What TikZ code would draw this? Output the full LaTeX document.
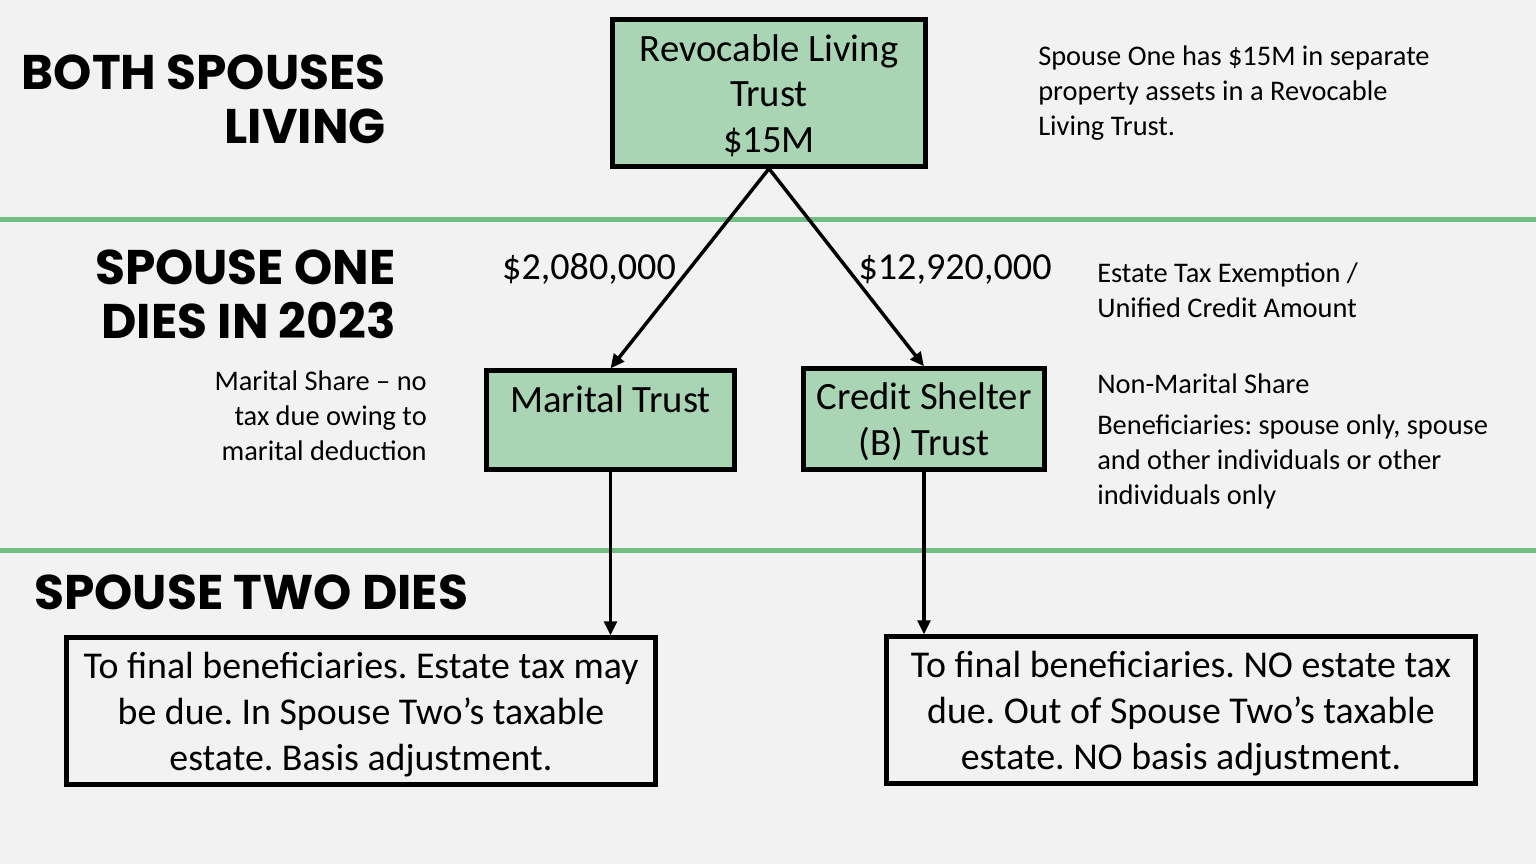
\documentclass[tikz,border=0pt]{standalone}
\usepackage{fontspec}
\setmainfont{Carlito}
\newfontfamily\headfont{Poppins}
\usetikzlibrary{arrows.meta}
\definecolor{bg}{HTML}{F2F2F2}
\definecolor{sep}{HTML}{72BD82}
\definecolor{boxfill}{HTML}{A9D5B4}
\frenchspacing
\begin{document}
\begin{tikzpicture}[x=0.75pt,y=-0.75pt,
 trustbox/.style={draw=black, line width=3.2pt, fill=boxfill, inner sep=0pt},
 outbox/.style={draw=black, line width=3.2pt, fill=bg, inner sep=0pt, minimum width=441.75pt, minimum height=110.25pt},
 trusttext/.style={align=center, inner sep=0pt, font=\fontsize{29}{34.3}\selectfont},
 outtext/.style={align=center, inner sep=0pt, font=\fontsize{28.4}{34.5}\selectfont},
 heading/.style={font=\headfont\bfseries\fontsize{36.5}{40}\selectfont, inner sep=0pt},
 note/.style={font=\fontsize{21.3}{26}\selectfont, inner sep=0pt},
 amount/.style={font=\fontsize{28.6}{34}\selectfont, inner sep=0pt},
 flow/.style={line width=2.6pt, -{Triangle[length=10.5pt,width=9.5pt]}},
 sepline/.style={draw=sep, line width=3.4pt}]
\fill[bg] (0,0) rectangle (1536,864);
\useasboundingbox (0,0) rectangle (1536,864);
\draw[sepline] (0,219.5) -- (1536,219.5);
\draw[sepline] (0,550.5) -- (1536,550.5);

\node[trustbox, minimum width=234.75pt, minimum height=110.25pt] (rlt) at (769,93) {};
\node[trusttext, yshift=-2pt] (rltT) at (rlt.center) {Revocable Living\\Trust\\\$15M};
\node[trustbox, minimum width=186pt, minimum height=74.25pt] (mt) at (610.5,420) {};
\node[trusttext, anchor=base, yshift=-2pt] (mtT) at (610.5,410) {Marital Trust};
\node[trustbox, minimum width=180.75pt, minimum height=75.75pt] (cst) at (924,419) {};
\node[trusttext, yshift=-2pt] (cstT) at (cst.center) {Credit Shelter\\(B) Trust};
\node[outbox] (bl) at (361,711) {};
\node[outtext, yshift=-2.5pt] (blT) at (bl.center) {To final beneficiaries. Estate tax may\\be due. In Spouse Two’s taxable\\estate. Basis adjustment.};
\node[outbox] (br) at (1181,710) {};
\node[outtext, yshift=-2.5pt] (brT) at (br.center) {To final beneficiaries. NO estate tax\\due. Out of Spouse Two’s taxable\\estate. NO basis adjustment.};

\node[heading, anchor=base east, align=right] (h1) at (386,143) {BOTH SPOUSES\\LIVING};
\node[heading, anchor=base east, align=right] (h2) at (396,338) {SPOUSE ONE\\DIES IN 2023};
\node[heading, anchor=base west] (h3) at (34,609) {SPOUSE TWO DIES};

\node[note, anchor=base east, align=right] (ms) at (427,460) {Marital Share – no\\tax due owing to\\marital deduction};
\node[note, anchor=base west, align=left] (n1) at (1038,135) {Spouse One has \$15M in separate\\property assets in a Revocable\\Living Trust.};
\node[note, anchor=base west, align=left] (n2) at (1097,317) {Estate Tax Exemption /\\Unified Credit Amount};
\node[note, anchor=base west] (n3) at (1097,393) {Non-Marital Share};
\node[note, anchor=base west, align=left] (n4) at (1097,504) {Beneficiaries: spouse only, spouse\\and other individuals or other\\individuals only};

\node[amount, anchor=base] (a1) at (589,279) {\$2,080,000};
\node[amount, anchor=base] (a2) at (955,279) {\$12,920,000};

\draw[flow] (rlt.south) -- (mt.north);
\draw[flow] (rlt.south) -- (cst.north);
\draw[flow] (mt.south) -- (mt.south |- bl.north);
\draw[flow] (cst.south) -- (cst.south |- br.north);
\end{tikzpicture}
\end{document}
